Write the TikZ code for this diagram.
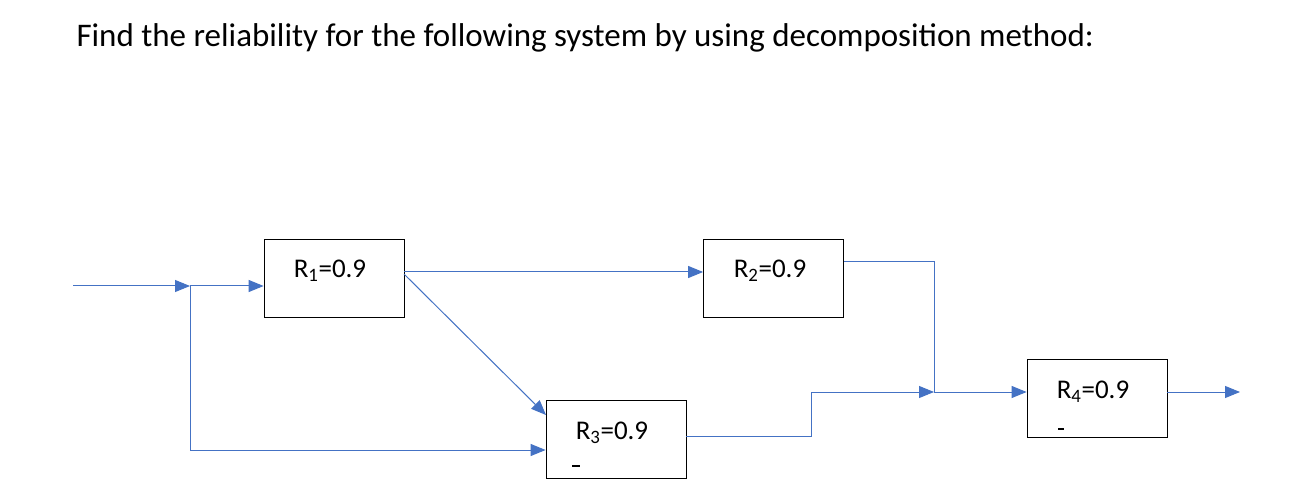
\documentclass[tikz,border=0pt]{standalone}
\usepackage{fontspec}
\setmainfont{Carlito}
\usetikzlibrary{arrows.meta}
\definecolor{ln}{HTML}{4472C4}
\begin{document}
\begin{tikzpicture}[x=1pt,y=-1pt,
  box/.style={draw=black,line width=0.8pt,minimum width=140pt,minimum height=78pt,inner sep=0pt},
  lbl/.style={font=\fontsize{27}{30}\selectfont},
  con/.style={draw=ln,line width=1pt},
  arr/.style={con,-{Triangle[length=15pt,width=12pt]}}]
\useasboundingbox (0,0) rectangle (1298,502);
\fill[white] (0,0) rectangle (1298,502);
\node[anchor=west,font=\fontsize{33}{38}\selectfont] (title) at (73,38) {Find the reliability for the following system by using decomposition method:};
\node[box] (r1) at (334,278) {};
\node[box] (r2) at (773.5,278) {};
\node[box] (r3) at (616,439) {};
\node[box] (r4) at (1097,398.5) {};
\node[lbl] (t1) at (330,271) {R\textsubscript{1}=0.9};
\node[lbl] (t2) at (770,271) {R\textsubscript{2}=0.9};
\node[lbl] (t3) at (612,433) {R\textsubscript{3}=0.9};
\node[lbl] (t4) at (1093,392) {R\textsubscript{4}=0.9};
\coordinate (in) at (73,286);
\coordinate (s) at (190,286);
\coordinate (b) at (190,450);
\coordinate (j) at (934,392);
\coordinate (out) at (1240,392);
\draw[arr] (in) -- (s);
\draw[arr] (s) -- (r1.west |- s);
\draw[arr] (s) -- (b) -- (r3.west |- b);
\draw[arr] (404,272) -- (r2.west |- 0,272);
\draw[arr] (404,274) -- (546,415);
\draw[con] (r2.east |- 0,262) -- (934,262) -- (j);
\draw[arr] (r3.east |- 0,436) -- (811,436) -- (811,392) -- (j);
\draw[arr] (j) -- (r4.west |- j);
\draw[arr] (r4.east |- out) -- (out);
\draw[line width=1.2pt] (572,466) -- (580,466);
\draw[line width=1.2pt] (1058,429) -- (1064,429);
\end{tikzpicture}
\end{document}
